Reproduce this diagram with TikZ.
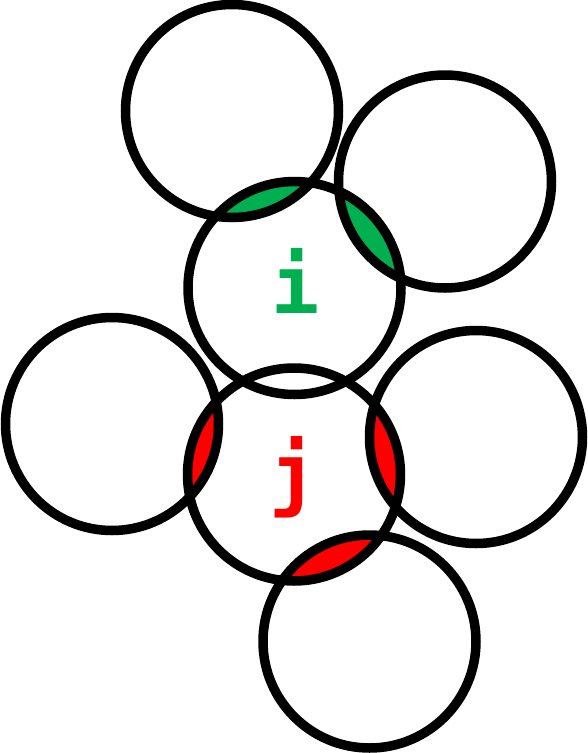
\documentclass[tikz,border=0pt]{standalone}
\usepackage{fontspec}
\newfontfamily\monofont{DejaVu Sans Mono}
\usepackage{tikz}
\definecolor{leafgreen}{HTML}{00B050}
\definecolor{lensred}{HTML}{FF0000}

\begin{document}
\begin{tikzpicture}[x=1pt,y=-1pt,line width=9.5pt]
\useasboundingbox (0,0) rectangle (588,753);
%      A
%         B
%      i
%  L   j   R
%        D
\coordinate (cA) at (232, 111);
\coordinate (cB) at (445, 181.5);
\coordinate (ci) at (294.5, 288);
\coordinate (cL) at (112, 424);
\coordinate (cj) at (294, 474.5);
\coordinate (cR) at (476, 437);
\coordinate (cD) at (369.5, 641.5);
\def\rad{106.5pt}
%
\newcommand{\lens}[3]{
  \begin{scope}
    \clip (#1) circle (\rad);
    \fill[#3] (#2) circle (\rad);
  \end{scope}
}
%
\lens{ci}{cA}{leafgreen}
\lens{ci}{cB}{leafgreen}
\lens{cj}{cL}{lensred}
\lens{cj}{cR}{lensred}
\lens{cj}{cD}{lensred}
%
\foreach \c in {cA,cB,ci,cL,cj,cR,cD}
  \draw (\c) circle (\rad);
%
\node[anchor=base,inner sep=0pt,text=leafgreen] (i) at (295.5, 313)
  {\monofont\bfseries\fontsize{80}{90}\selectfont i};
\node[anchor=base,inner sep=0pt,text=lensred] (j) at (294, 501)
  {\monofont\bfseries\fontsize{80}{90}\selectfont j};
%
\end{tikzpicture}
\end{document}
